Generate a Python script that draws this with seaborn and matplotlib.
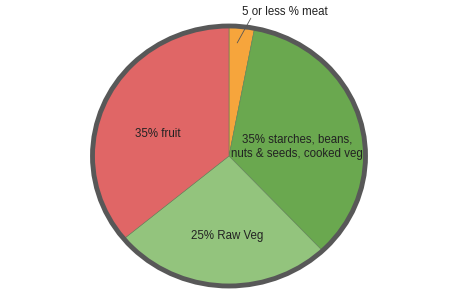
import matplotlib
matplotlib.use("Agg")
import matplotlib.pyplot as plt
import seaborn as sns
from matplotlib.patches import Circle

# ====== DATA ======
categories = ["5 or less % meat", "35% starches, beans,\nnuts & seeds, cooked veg", "25% Raw Veg", "35% fruit"]
shares = [3, 35, 26, 36]
colors = ["#f6a53c", "#6aa84f", "#93c47d", "#e06666"]

sns.set_theme(style="white")
plt.rcParams["font.family"] = ["Liberation Sans", "DejaVu Sans"]

fig = plt.figure(figsize=(4.74, 3.05), dpi=100)
ax = fig.add_axes([92.5 / 474, 19 / 305, 273 / 474, 260 / 305])

wedges, _ = ax.pie(
    shares,
    colors=colors,
    startangle=90,
    counterclock=False,
    radius=1,
    wedgeprops=dict(edgecolor="#5f7f55", linewidth=0.4),
)
ax.set_aspect("auto")
ax.set_xlim(-1, 1)
ax.set_ylim(-1, 1)

# outer border
ax.add_patch(Circle((0, 0), 1, fill=False, edgecolor="#585858", linewidth=3.5,
                    zorder=5, clip_on=False))

txt = dict(fontsize=8.3, color="#222222", ha="center", va="center")
ax.text(-0.52, 0.17, categories[3], **txt)
ax.text(0.50, 0.07, categories[1], linespacing=1.25, **txt)
ax.text(-0.01, -0.615, categories[2], **txt)
ax.text(0.41, 1.11, categories[0], zorder=6, **txt)
ax.plot([0.06, 0.16], [0.87, 1.06], color="#555555", linewidth=0.6, zorder=6, clip_on=False)

ax.axis("off")
fig.savefig("out.png", dpi=100)
